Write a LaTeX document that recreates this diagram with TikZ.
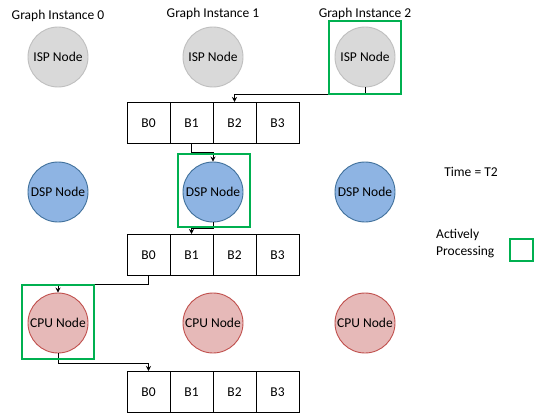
\documentclass[tikz,border=0pt]{standalone}
\usepackage{fontspec}
\setmainfont{Carlito}
\usetikzlibrary{arrows.meta}

\definecolor{ispfill}{HTML}{D9D9D9}
\definecolor{ispline}{HTML}{BFBFBF}
\definecolor{dspfill}{HTML}{8EB4E3}
\definecolor{dspline}{HTML}{41719C}
\definecolor{cpufill}{HTML}{E6B9B8}
\definecolor{cpuline}{HTML}{C0504D}
\definecolor{active}{HTML}{00B050}

\tikzset{
  proc/.style={anchor=center,circle,draw,line width=0.9pt,minimum size=60pt,
    inner sep=0pt,font=\fontsize{13.5}{15}\selectfont},
  isp/.style={proc,draw=ispline,fill=ispfill},
  dsp/.style={proc,draw=dspline,fill=dspfill},
  cpu/.style={proc,draw=cpuline,fill=cpufill},
  cell/.style={anchor=center,rectangle,draw,line width=1pt,minimum width=43pt,
    minimum height=41pt,inner sep=0pt,font=\fontsize{13.5}{15}\selectfont},
  flow/.style={line width=1pt,-{Stealth[length=5pt,width=5pt]}},
  busy/.style={draw=active,line width=1.2pt}
}

\begin{document}
\begin{tikzpicture}[x=1pt,y=-1pt,every label/.style={font=\fontsize{13.5}{15}\selectfont}]
    \useasboundingbox (0,0) rectangle (534,414);

    \node [isp,label={[label distance=1pt]above:Graph Instance 0}] (isp0) at (58, 57) {ISP Node};
    \node [isp,label={[label distance=3pt]above:Graph Instance 1}] (isp1) at (213, 57) {ISP Node};
    \node [isp,label={[label distance=3pt]above:Graph Instance 2}] (isp2) at (365, 57) {ISP Node};

    \node [dsp] (dsp0) at (58, 192) {DSP Node};
    \node [dsp] (dsp1) at (213, 192) {DSP Node};
    \node [dsp] (dsp2) at (365, 192) {DSP Node};

    \node [cpu] (cpu0) at (58, 323) {CPU Node};
    \node [cpu] (cpu1) at (213, 323) {CPU Node};
    \node [cpu] (cpu2) at (365, 323) {CPU Node};

    % buffer queues
    \node [cell] (u0) at (148.5, 123) {B0};
    \node [cell] (u1) at (191.5, 123) {B1};
    \node [cell] (u2) at (234.5, 123) {B2};
    \node [cell] (u3) at (277.5, 123) {B3};

    \node [cell] (v0) at (148.5, 255) {B0};
    \node [cell] (v1) at (191.5, 255) {B1};
    \node [cell] (v2) at (234.5, 255) {B2};
    \node [cell] (v3) at (277.5, 255) {B3};

    \node [cell] (w0) at (148.5, 392) {B0};
    \node [cell] (w1) at (191.5, 392) {B1};
    \node [cell] (w2) at (234.5, 392) {B2};
    \node [cell] (w3) at (277.5, 392) {B3};

    % bends
    \coordinate (k1) at (234.5, 95);
    \coordinate (k2) at (213, 152);
    \coordinate (k3) at (191.5, 228);
    \coordinate (k4) at (58, 284);
    \coordinate (k5) at (148.5, 363);

    \draw [flow] (isp2.south) |- (k1) -- (u2.north);
    \draw [flow] (u1.south) |- (k2) -- (dsp1.north);
    \draw [flow] (dsp1.south) |- (k3) -- (v1.north);
    \draw [flow] (v0.south) |- (k4) -- (cpu0.north);
    \draw [flow] (cpu0.south) |- (k5) -- (w0.north);

    % active stages
    \draw [busy] (329, 21) rectangle (401, 94);
    \draw [busy] (178, 154) rectangle (250, 227);
    \draw [busy] (22, 285) rectangle (94, 359);

    % legend
    \node [anchor=center,font=\fontsize{13.5}{15}\selectfont] (time) at (471, 172) {Time = T2};
    \node [anchor=west,align=left,inner sep=0pt,font=\fontsize{13.5}{17}\selectfont]
      (legend) at (436, 243) {Actively\\Processing};
    \draw [busy] (510, 239) rectangle (533, 261);
  \end{tikzpicture}
\end{document}
